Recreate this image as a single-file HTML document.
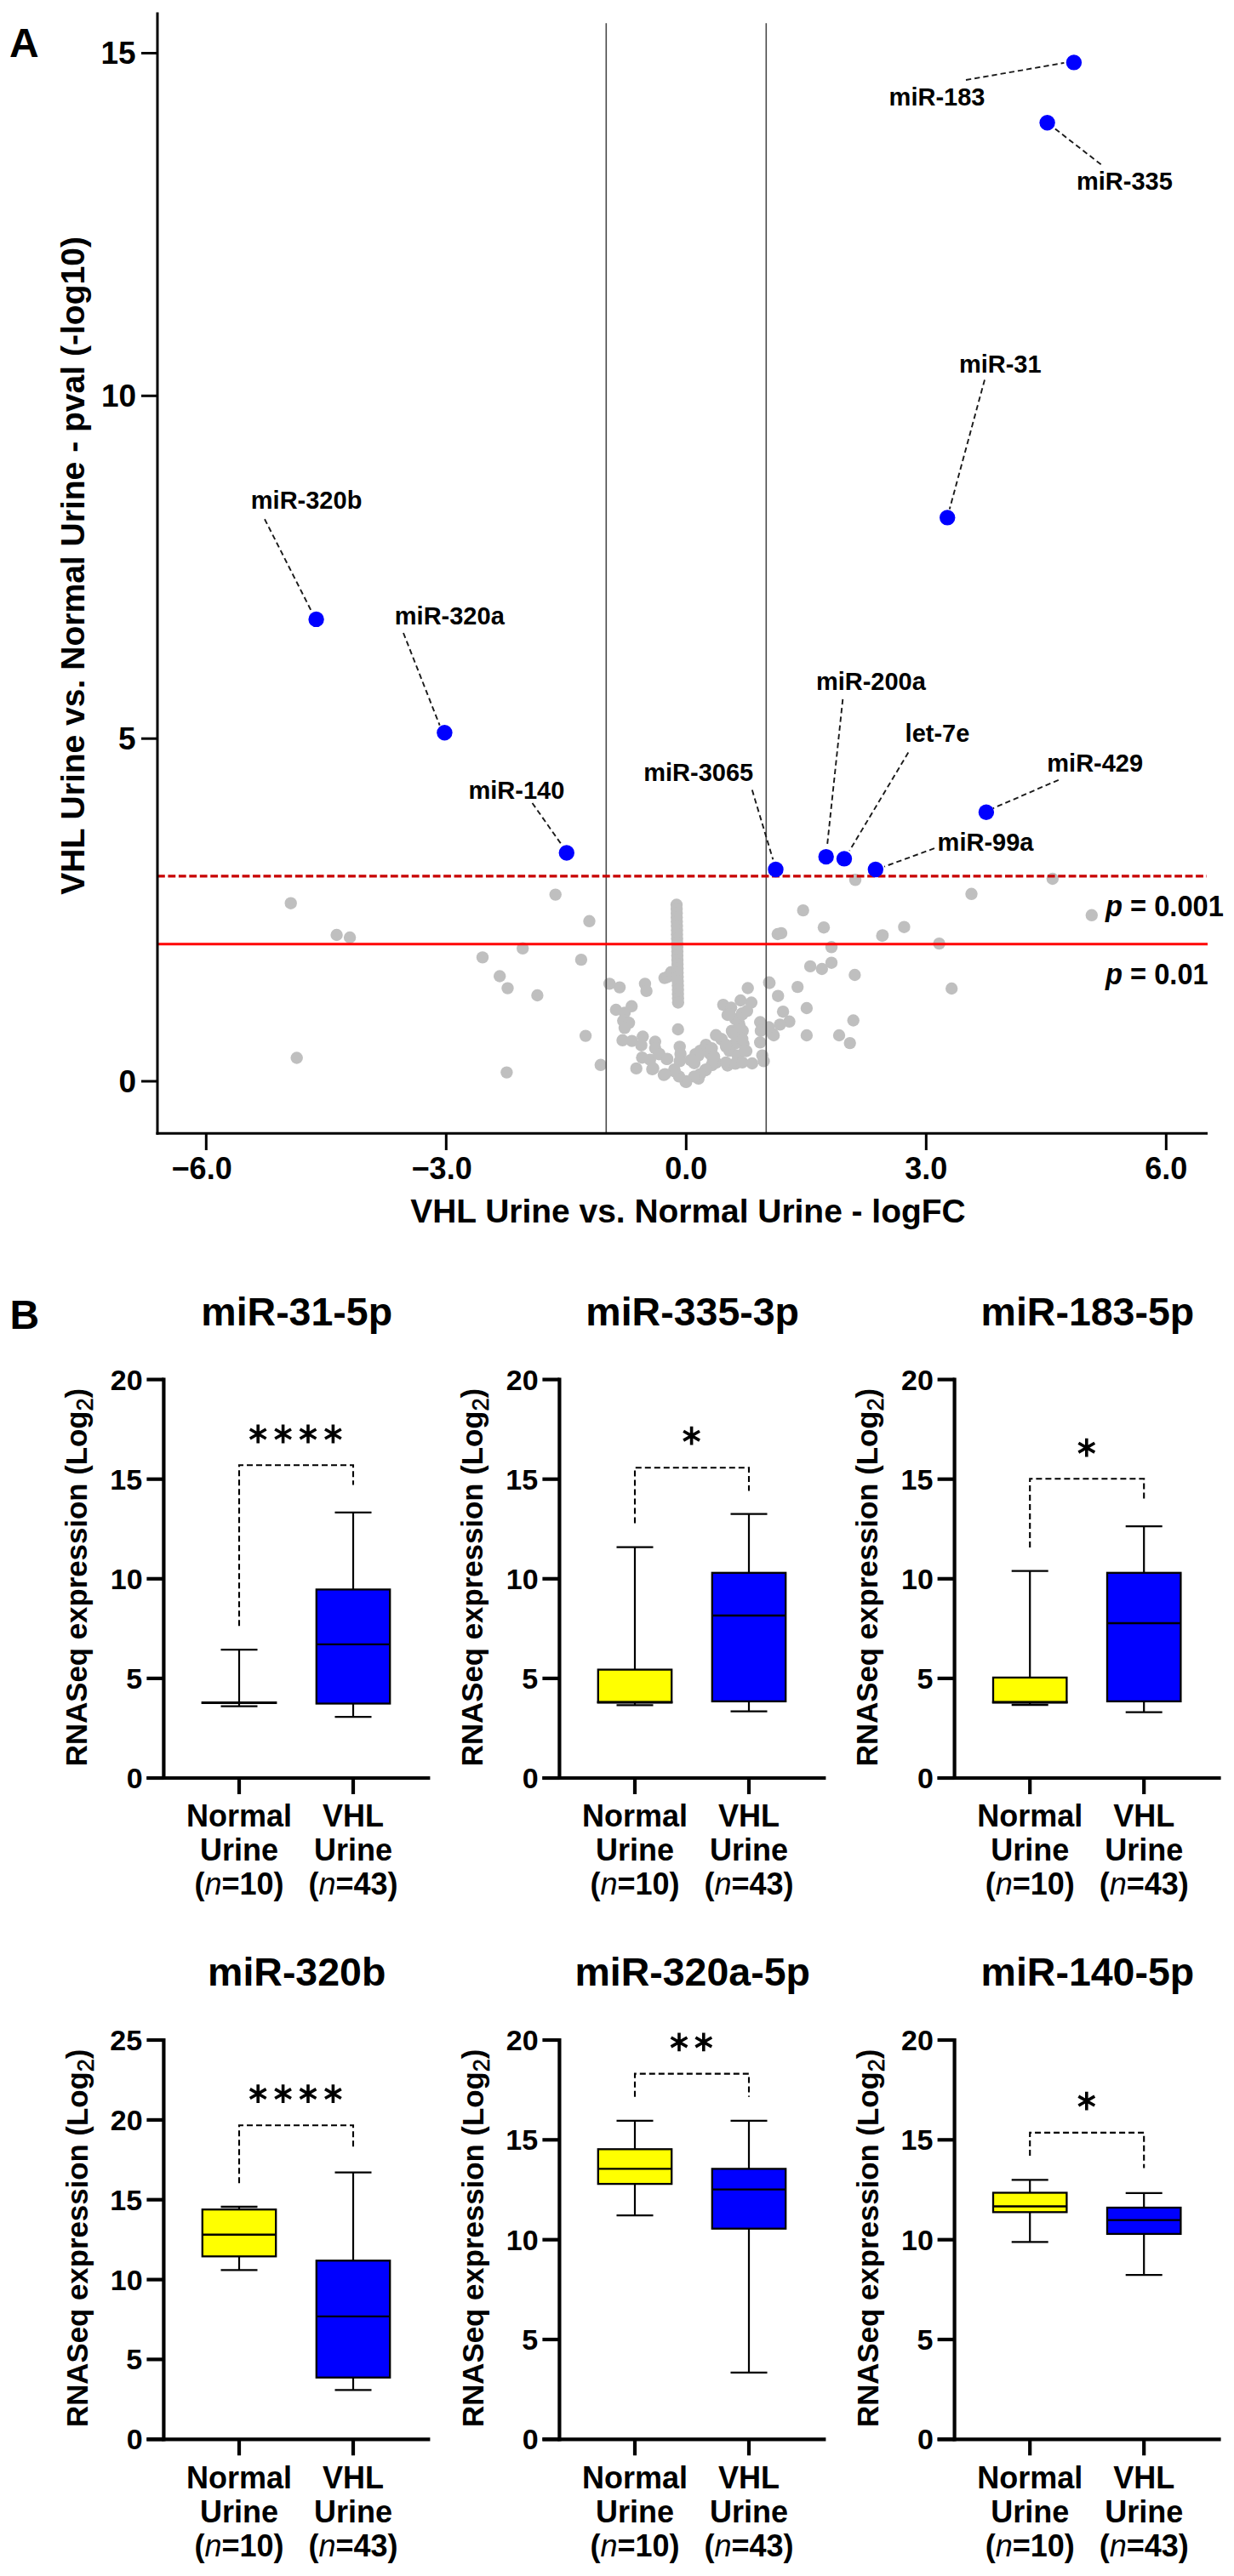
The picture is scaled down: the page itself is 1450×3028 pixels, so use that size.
<!DOCTYPE html>
<html><head><meta charset="utf-8"><style>
html,body{margin:0;padding:0;background:#fff;}
svg{display:block;}
text{font-family:"Liberation Sans", sans-serif;font-weight:bold;fill:#000;}
</style></head><body>
<svg width="1450" height="3028" viewBox="0 0 1450 3028">
<rect width="1450" height="3028" fill="#fff"/>
<text x="11.1" y="66.5" font-size="48" fill="#000" >A</text>
<g fill="#bfbfbf">
<circle cx="341.7" cy="1061.7" r="7.2"/>
<circle cx="395.6" cy="1099.0" r="7.2"/>
<circle cx="411.1" cy="1102.0" r="7.2"/>
<circle cx="348.7" cy="1243.5" r="7.2"/>
<circle cx="652.7" cy="1051.6" r="7.2"/>
<circle cx="692.5" cy="1082.8" r="7.2"/>
<circle cx="614.2" cy="1114.8" r="7.2"/>
<circle cx="567.0" cy="1125.4" r="7.2"/>
<circle cx="682.9" cy="1128.1" r="7.2"/>
<circle cx="587.2" cy="1147.5" r="7.2"/>
<circle cx="596.5" cy="1161.6" r="7.2"/>
<circle cx="631.4" cy="1170.0" r="7.2"/>
<circle cx="688.1" cy="1217.6" r="7.2"/>
<circle cx="595.4" cy="1260.6" r="7.2"/>
<circle cx="705.8" cy="1251.8" r="7.2"/>
<circle cx="716.2" cy="1156.4" r="7.2"/>
<circle cx="728.1" cy="1160.6" r="7.2"/>
<circle cx="757.9" cy="1156.4" r="7.2"/>
<circle cx="759.6" cy="1164.9" r="7.2"/>
<circle cx="780.8" cy="1149.6" r="7.2"/>
<circle cx="788.5" cy="1142.8" r="7.2"/>
<circle cx="723.8" cy="1187.0" r="7.2"/>
<circle cx="742.2" cy="1182.8" r="7.2"/>
<circle cx="734.0" cy="1190.4" r="7.2"/>
<circle cx="732.3" cy="1199.8" r="7.2"/>
<circle cx="739.1" cy="1202.3" r="7.2"/>
<circle cx="734.0" cy="1208.3" r="7.2"/>
<circle cx="731.5" cy="1222.8" r="7.2"/>
<circle cx="742.5" cy="1223.6" r="7.2"/>
<circle cx="755.3" cy="1218.5" r="7.2"/>
<circle cx="753.6" cy="1228.7" r="7.2"/>
<circle cx="769.8" cy="1224.5" r="7.2"/>
<circle cx="769.8" cy="1232.1" r="7.2"/>
<circle cx="754.5" cy="1243.2" r="7.2"/>
<circle cx="763.8" cy="1245.7" r="7.2"/>
<circle cx="774.9" cy="1238.9" r="7.2"/>
<circle cx="783.4" cy="1244.9" r="7.2"/>
<circle cx="747.7" cy="1255.9" r="7.2"/>
<circle cx="766.4" cy="1256.8" r="7.2"/>
<circle cx="780.0" cy="1263.6" r="7.2"/>
<circle cx="796.7" cy="1210.0" r="7.2"/>
<circle cx="798.7" cy="1230.4" r="7.2"/>
<circle cx="799.6" cy="1238.9" r="7.2"/>
<circle cx="798.7" cy="1247.4" r="7.2"/>
<circle cx="792.7" cy="1259.3" r="7.2"/>
<circle cx="805.5" cy="1271.3" r="7.2"/>
<circle cx="815.7" cy="1249.1" r="7.2"/>
<circle cx="820.8" cy="1240.6" r="7.2"/>
<circle cx="829.3" cy="1230.4" r="7.2"/>
<circle cx="834.4" cy="1238.9" r="7.2"/>
<circle cx="820.8" cy="1267.8" r="7.2"/>
<circle cx="829.3" cy="1257.6" r="7.2"/>
<circle cx="837.8" cy="1245.7" r="7.2"/>
<circle cx="841.3" cy="1249.1" r="7.2"/>
<circle cx="841.3" cy="1216.8" r="7.2"/>
<circle cx="848.1" cy="1221.9" r="7.2"/>
<circle cx="853.2" cy="1230.4" r="7.2"/>
<circle cx="854.9" cy="1252.5" r="7.2"/>
<circle cx="849.8" cy="1181.1" r="7.2"/>
<circle cx="859.1" cy="1184.5" r="7.2"/>
<circle cx="854.9" cy="1193.0" r="7.2"/>
<circle cx="870.2" cy="1176.0" r="7.2"/>
<circle cx="882.9" cy="1178.5" r="7.2"/>
<circle cx="878.7" cy="1161.5" r="7.2"/>
<circle cx="871.9" cy="1191.3" r="7.2"/>
<circle cx="868.5" cy="1203.2" r="7.2"/>
<circle cx="860.0" cy="1211.7" r="7.2"/>
<circle cx="872.7" cy="1211.7" r="7.2"/>
<circle cx="873.6" cy="1227.0" r="7.2"/>
<circle cx="877.0" cy="1235.5" r="7.2"/>
<circle cx="863.4" cy="1227.0" r="7.2"/>
<circle cx="865.1" cy="1249.1" r="7.2"/>
<circle cx="883.8" cy="1250.0" r="7.2"/>
<circle cx="893.2" cy="1201.5" r="7.2"/>
<circle cx="894.0" cy="1211.7" r="7.2"/>
<circle cx="893.2" cy="1225.3" r="7.2"/>
<circle cx="895.7" cy="1240.6" r="7.2"/>
<circle cx="897.4" cy="1247.4" r="7.2"/>
<circle cx="904.2" cy="1155.5" r="7.2"/>
<circle cx="907.6" cy="1215.1" r="7.2"/>
<circle cx="784.2" cy="1148.5" r="7.2"/>
<circle cx="790.5" cy="1144.3" r="7.2"/>
<circle cx="836.9" cy="1251.8" r="7.2"/>
<circle cx="815.8" cy="1249.7" r="7.2"/>
<circle cx="828.5" cy="1258.1" r="7.2"/>
<circle cx="806.3" cy="1271.8" r="7.2"/>
<circle cx="1005.0" cy="1034.3" r="7.2"/>
<circle cx="943.7" cy="1070.1" r="7.2"/>
<circle cx="968.0" cy="1090.2" r="7.2"/>
<circle cx="1036.6" cy="1100.0" r="7.2"/>
<circle cx="913.8" cy="1098.0" r="7.2"/>
<circle cx="918.0" cy="1096.9" r="7.2"/>
<circle cx="977.0" cy="1113.3" r="7.2"/>
<circle cx="952.1" cy="1135.9" r="7.2"/>
<circle cx="965.8" cy="1139.0" r="7.2"/>
<circle cx="977.0" cy="1131.7" r="7.2"/>
<circle cx="1004.4" cy="1146.0" r="7.2"/>
<circle cx="903.7" cy="1154.8" r="7.2"/>
<circle cx="937.2" cy="1160.1" r="7.2"/>
<circle cx="914.2" cy="1170.7" r="7.2"/>
<circle cx="947.9" cy="1185.0" r="7.2"/>
<circle cx="920.1" cy="1189.2" r="7.2"/>
<circle cx="927.5" cy="1200.8" r="7.2"/>
<circle cx="916.5" cy="1204.4" r="7.2"/>
<circle cx="1002.7" cy="1199.5" r="7.2"/>
<circle cx="909.2" cy="1217.0" r="7.2"/>
<circle cx="947.9" cy="1217.0" r="7.2"/>
<circle cx="986.0" cy="1217.0" r="7.2"/>
<circle cx="998.7" cy="1226.1" r="7.2"/>
<circle cx="903.3" cy="1207.5" r="7.2"/>
<circle cx="811.6" cy="1246.1" r="7.2"/>
<circle cx="817.1" cy="1239.2" r="7.2"/>
<circle cx="822.7" cy="1235.1" r="7.2"/>
<circle cx="829.5" cy="1228.2" r="7.2"/>
<circle cx="836.4" cy="1232.3" r="7.2"/>
<circle cx="839.2" cy="1242.0" r="7.2"/>
<circle cx="836.4" cy="1251.6" r="7.2"/>
<circle cx="829.5" cy="1257.1" r="7.2"/>
<circle cx="822.7" cy="1262.7" r="7.2"/>
<circle cx="815.8" cy="1265.4" r="7.2"/>
<circle cx="806.1" cy="1270.9" r="7.2"/>
<circle cx="797.9" cy="1265.4" r="7.2"/>
<circle cx="792.3" cy="1257.1" r="7.2"/>
<circle cx="781.3" cy="1262.7" r="7.2"/>
<circle cx="767.6" cy="1255.8" r="7.2"/>
<circle cx="774.4" cy="1239.2" r="7.2"/>
<circle cx="784.1" cy="1244.7" r="7.2"/>
<circle cx="853.0" cy="1248.9" r="7.2"/>
<circle cx="857.1" cy="1235.1" r="7.2"/>
<circle cx="866.7" cy="1240.6" r="7.2"/>
<circle cx="875.0" cy="1235.1" r="7.2"/>
<circle cx="872.2" cy="1221.3" r="7.2"/>
<circle cx="861.2" cy="1214.4" r="7.2"/>
<circle cx="869.5" cy="1207.6" r="7.2"/>
<circle cx="864.0" cy="1197.9" r="7.2"/>
<circle cx="857.1" cy="1192.4" r="7.2"/>
<circle cx="872.2" cy="1192.4" r="7.2"/>
<circle cx="877.8" cy="1188.3" r="7.2"/>
<circle cx="847.5" cy="1221.3" r="7.2"/>
<circle cx="853.0" cy="1228.2" r="7.2"/>
<circle cx="864.0" cy="1250.3" r="7.2"/>
<circle cx="872.2" cy="1248.9" r="7.2"/>
<circle cx="1236.8" cy="1033.0" r="7.2"/>
<circle cx="1141.5" cy="1050.8" r="7.2"/>
<circle cx="1282.8" cy="1075.8" r="7.2"/>
<circle cx="1062.4" cy="1089.7" r="7.2"/>
<circle cx="1037.1" cy="1099.4" r="7.2"/>
<circle cx="1103.6" cy="1109.1" r="7.2"/>
<circle cx="1118.2" cy="1162.0" r="7.2"/>
<circle cx="795.0" cy="1063.5" r="7.2"/>
<circle cx="795.1" cy="1068.5" r="7.2"/>
<circle cx="795.2" cy="1073.5" r="7.2"/>
<circle cx="795.2" cy="1078.5" r="7.2"/>
<circle cx="795.3" cy="1083.5" r="7.2"/>
<circle cx="795.4" cy="1088.5" r="7.2"/>
<circle cx="795.5" cy="1093.5" r="7.2"/>
<circle cx="795.5" cy="1098.5" r="7.2"/>
<circle cx="795.6" cy="1103.5" r="7.2"/>
<circle cx="795.7" cy="1108.5" r="7.2"/>
<circle cx="795.8" cy="1113.5" r="7.2"/>
<circle cx="795.9" cy="1118.5" r="7.2"/>
<circle cx="795.9" cy="1123.5" r="7.2"/>
<circle cx="796.0" cy="1128.5" r="7.2"/>
<circle cx="796.1" cy="1133.5" r="7.2"/>
<circle cx="796.2" cy="1138.5" r="7.2"/>
<circle cx="796.2" cy="1143.5" r="7.2"/>
<circle cx="796.3" cy="1148.5" r="7.2"/>
<circle cx="796.4" cy="1153.5" r="7.2"/>
<circle cx="796.5" cy="1158.5" r="7.2"/>
<circle cx="796.6" cy="1163.5" r="7.2"/>
<circle cx="796.6" cy="1168.5" r="7.2"/>
<circle cx="796.7" cy="1173.5" r="7.2"/>
<circle cx="796.8" cy="1178.5" r="7.2"/>
</g>
<line x1="712.3" y1="27.2" x2="712.3" y2="1332.3" stroke="#4a4a4a" stroke-width="1.6" />
<line x1="900.3" y1="27.2" x2="900.3" y2="1332.3" stroke="#4a4a4a" stroke-width="1.6" />
<line x1="185.0" y1="1029.8" x2="1418.0" y2="1029.8" stroke="#c80000" stroke-width="3.2" stroke-dasharray="8.8 3.65"/>
<line x1="185.0" y1="1109.8" x2="1419.0" y2="1109.8" stroke="#ff0000" stroke-width="3" />
<line x1="185.0" y1="14.6" x2="185.0" y2="1333.8" stroke="#000" stroke-width="3" />
<line x1="183.5" y1="1332.3" x2="1419.0" y2="1332.3" stroke="#000" stroke-width="3" />
<line x1="166.0" y1="62.5" x2="185.0" y2="62.5" stroke="#000" stroke-width="3" />
<text x="118.4" y="75.4" font-size="37" >15</text>
<line x1="166.0" y1="465.3" x2="185.0" y2="465.3" stroke="#000" stroke-width="3" />
<text x="118.9" y="478.2" font-size="37" >10</text>
<line x1="166.0" y1="868.2" x2="185.0" y2="868.2" stroke="#000" stroke-width="3" />
<text x="138.9" y="881.1" font-size="37" >5</text>
<line x1="166.0" y1="1271.0" x2="185.0" y2="1271.0" stroke="#000" stroke-width="3" />
<text x="139.4" y="1283.9" font-size="37" >0</text>
<line x1="242.3" y1="1332.3" x2="242.3" y2="1352.0" stroke="#000" stroke-width="3" />
<text x="201.6" y="1386.0" font-size="36" fill="#000" >−6.0</text>
<line x1="524.3" y1="1332.3" x2="524.3" y2="1352.0" stroke="#000" stroke-width="3" />
<text x="483.6" y="1386.0" font-size="36" fill="#000" >−3.0</text>
<line x1="806.3" y1="1332.3" x2="806.3" y2="1352.0" stroke="#000" stroke-width="3" />
<text x="806.3" y="1386" font-size="36" text-anchor="middle">0.0</text>
<line x1="1088.3" y1="1332.3" x2="1088.3" y2="1352.0" stroke="#000" stroke-width="3" />
<text x="1088.3" y="1386" font-size="36" text-anchor="middle">3.0</text>
<line x1="1370.3" y1="1332.3" x2="1370.3" y2="1352.0" stroke="#000" stroke-width="3" />
<text x="1370.3" y="1386" font-size="36" text-anchor="middle">6.0</text>
<text x="482.3" y="1437.4" font-size="39" textLength="652.3" lengthAdjust="spacingAndGlyphs" >VHL Urine vs. Normal Urine - logFC</text>
<text transform="translate(99.2,1051.7) rotate(-90)" font-size="39" textLength="773.6" lengthAdjust="spacingAndGlyphs">VHL Urine vs. Normal Urine - pval (-log10)</text>
<line x1="1135.0" y1="94.0" x2="1250.4" y2="73.9" stroke="#1a1a1a" stroke-width="1.9" stroke-dasharray="6.3 4"/>
<line x1="1239.9" y1="151.5" x2="1296.3" y2="195.3" stroke="#1a1a1a" stroke-width="1.9" stroke-dasharray="6.3 4"/>
<line x1="1157.0" y1="446.4" x2="1115.8" y2="598.4" stroke="#1a1a1a" stroke-width="1.9" stroke-dasharray="6.3 4"/>
<line x1="311.0" y1="610.2" x2="365.9" y2="718.3" stroke="#1a1a1a" stroke-width="1.9" stroke-dasharray="6.3 4"/>
<line x1="474.0" y1="744.0" x2="516.7" y2="852.7" stroke="#1a1a1a" stroke-width="1.9" stroke-dasharray="6.3 4"/>
<line x1="625.5" y1="944.0" x2="661.1" y2="994.6" stroke="#1a1a1a" stroke-width="1.9" stroke-dasharray="6.3 4"/>
<line x1="883.8" y1="928.6" x2="908.3" y2="1010.3" stroke="#1a1a1a" stroke-width="1.9" stroke-dasharray="6.3 4"/>
<line x1="990.3" y1="821.8" x2="971.9" y2="994.8" stroke="#1a1a1a" stroke-width="1.9" stroke-dasharray="6.3 4"/>
<line x1="1067.3" y1="884.6" x2="998.2" y2="1000.0" stroke="#1a1a1a" stroke-width="1.9" stroke-dasharray="6.3 4"/>
<line x1="1243.8" y1="916.8" x2="1166.7" y2="950.2" stroke="#1a1a1a" stroke-width="1.9" stroke-dasharray="6.3 4"/>
<line x1="1098.0" y1="997.2" x2="1039.0" y2="1018.7" stroke="#1a1a1a" stroke-width="1.9" stroke-dasharray="6.3 4"/>
<circle cx="1261.9" cy="73.4" r="9.2" fill="#0000ff"/>
<text x="1044.6" y="124.3" font-size="29" fill="#000" >miR-183</text>
<circle cx="1230.6" cy="144.2" r="9.2" fill="#0000ff"/>
<text x="1265.0" y="222.9" font-size="29" fill="#000" >miR-335</text>
<circle cx="1113.2" cy="608.4" r="9.2" fill="#0000ff"/>
<text x="1126.9" y="438.2" font-size="29" fill="#000" >miR-31</text>
<circle cx="371.6" cy="727.9" r="9.2" fill="#0000ff"/>
<text x="294.8" y="598.1" font-size="29" fill="#000" >miR-320b</text>
<circle cx="522.4" cy="861.3" r="9.2" fill="#0000ff"/>
<text x="463.8" y="733.6" font-size="29" fill="#000" >miR-320a</text>
<circle cx="665.8" cy="1002.5" r="9.2" fill="#0000ff"/>
<text x="550.5" y="938.6" font-size="29" fill="#000" >miR-140</text>
<circle cx="911.5" cy="1022" r="9.2" fill="#0000ff"/>
<text x="756.2" y="917.5" font-size="29" fill="#000" >miR-3065</text>
<circle cx="970.7" cy="1007.1" r="9.2" fill="#0000ff"/>
<text x="958.9" y="810.5" font-size="29" fill="#000" >miR-200a</text>
<circle cx="992" cy="1009.4" r="9.2" fill="#0000ff"/>
<text x="1063.6" y="872.4" font-size="29" fill="#000" >let-7e</text>
<circle cx="1158.9" cy="954.7" r="9.2" fill="#0000ff"/>
<text x="1230.3" y="907.1" font-size="29" fill="#000" >miR-429</text>
<circle cx="1028.8" cy="1022" r="9.2" fill="#0000ff"/>
<text x="1101.6" y="999.5" font-size="29" fill="#000" >miR-99a</text>
<g transform="translate(1297.9,0) scale(0.934,1) translate(-1297.9,0)"><text x="1299" y="1077.2" font-size="35"><tspan font-style="italic">p</tspan> = 0.001</text>
<text x="1299" y="1157.1" font-size="35"><tspan font-style="italic">p</tspan> = 0.01</text></g>
<text x="11.6" y="1562.2" font-size="48" fill="#000" >B</text>
<text x="348.7" y="1558.0" font-size="46.5" text-anchor="middle">miR-31-5p</text>
<line x1="281.0" y1="1939.2" x2="281.0" y2="2005.6" stroke="#000" stroke-width="2.2" />
<line x1="259.5" y1="1939.2" x2="302.5" y2="1939.2" stroke="#000" stroke-width="2.3" />
<line x1="259.5" y1="2005.6" x2="302.5" y2="2005.6" stroke="#000" stroke-width="2.3" />
<line x1="236.6" y1="2001.5" x2="325.4" y2="2001.5" stroke="#000" stroke-width="3.2" />
<line x1="415.0" y1="1777.8" x2="415.0" y2="2018.2" stroke="#000" stroke-width="2.2" />
<line x1="393.5" y1="1777.8" x2="436.5" y2="1777.8" stroke="#000" stroke-width="2.3" />
<line x1="393.5" y1="2018.2" x2="436.5" y2="2018.2" stroke="#000" stroke-width="2.3" />
<rect x="371.8" y="1868.4" width="86.4" height="134.1" fill="#0000ff" stroke="#000" stroke-width="2.3"/>
<line x1="371.8" y1="1932.9" x2="458.2" y2="1932.9" stroke="#000" stroke-width="2.4" />
<path d="M281.0,1911.3 V1722.3 H415.0 V1745.4" fill="none" stroke="#000" stroke-width="2.1" stroke-dasharray="7 4"/>
<path d="M303.20,1674.60L303.20,1696.40M293.76,1680.05L312.64,1690.95M293.76,1690.95L312.64,1680.05" stroke="#000" stroke-width="3.6" fill="none"/>
<path d="M332.60,1674.60L332.60,1696.40M323.16,1680.05L342.04,1690.95M323.16,1690.95L342.04,1680.05" stroke="#000" stroke-width="3.6" fill="none"/>
<path d="M362.00,1674.60L362.00,1696.40M352.56,1680.05L371.44,1690.95M352.56,1690.95L371.44,1680.05" stroke="#000" stroke-width="3.6" fill="none"/>
<path d="M391.40,1674.60L391.40,1696.40M381.96,1680.05L400.84,1690.95M381.96,1690.95L400.84,1680.05" stroke="#000" stroke-width="3.6" fill="none"/>
<line x1="192.4" y1="1619.5" x2="192.4" y2="2092.1" stroke="#000" stroke-width="4.2" />
<line x1="172.4" y1="2090.0" x2="505.4" y2="2090.0" stroke="#000" stroke-width="4.2" />
<line x1="172.4" y1="2090.0" x2="192.4" y2="2090.0" stroke="#000" stroke-width="4.2" />
<text x="148.7" y="2101.9" font-size="34" >0</text>
<line x1="172.4" y1="1972.9" x2="192.4" y2="1972.9" stroke="#000" stroke-width="4.2" />
<text x="148.2" y="1984.8" font-size="34" >5</text>
<line x1="172.4" y1="1855.8" x2="192.4" y2="1855.8" stroke="#000" stroke-width="4.2" />
<text x="129.8" y="1867.7" font-size="34" >10</text>
<line x1="172.4" y1="1738.7" x2="192.4" y2="1738.7" stroke="#000" stroke-width="4.2" />
<text x="129.3" y="1750.6" font-size="34" >15</text>
<line x1="172.4" y1="1621.6" x2="192.4" y2="1621.6" stroke="#000" stroke-width="4.2" />
<text x="129.8" y="1633.5" font-size="34" >20</text>
<line x1="281.0" y1="2090.0" x2="281.0" y2="2109.0" stroke="#000" stroke-width="4.2" />
<line x1="415.0" y1="2090.0" x2="415.0" y2="2109.0" stroke="#000" stroke-width="4.2" />
<text x="281.0" y="2146.6" font-size="36" text-anchor="middle">Normal</text>
<text x="281.0" y="2186.6" font-size="36" text-anchor="middle">Urine</text>
<text x="281.0" y="2226.6" font-size="36" text-anchor="middle">(<tspan font-style="italic" font-weight="normal">n</tspan>=10)</text>
<text x="415.0" y="2146.6" font-size="36" text-anchor="middle">VHL</text>
<text x="415.0" y="2186.6" font-size="36" text-anchor="middle">Urine</text>
<text x="415.0" y="2226.6" font-size="36" text-anchor="middle">(<tspan font-style="italic" font-weight="normal">n</tspan>=43)</text>
<text transform="translate(101.8,1854.0) rotate(-90)" font-size="34.8" text-anchor="middle">RNASeq expression (Log<tspan font-size="27" font-weight="normal" stroke="#000" stroke-width="0.6" dy="7.3">2</tspan><tspan dy="-7.3">)</tspan></text>
<text x="813.7" y="1558.0" font-size="46.5" text-anchor="middle">miR-335-3p</text>
<line x1="746.0" y1="1818.7" x2="746.0" y2="2004.3" stroke="#000" stroke-width="2.2" />
<line x1="724.5" y1="1818.7" x2="767.5" y2="1818.7" stroke="#000" stroke-width="2.3" />
<line x1="724.5" y1="2004.3" x2="767.5" y2="2004.3" stroke="#000" stroke-width="2.3" />
<rect x="702.8" y="1962.6" width="86.4" height="38.4" fill="#ffff00" stroke="#000" stroke-width="2.3"/>
<line x1="701.6" y1="2001.0" x2="790.4" y2="2001.0" stroke="#000" stroke-width="3.2" />
<line x1="880.0" y1="1779.6" x2="880.0" y2="2011.6" stroke="#000" stroke-width="2.2" />
<line x1="858.5" y1="1779.6" x2="901.5" y2="1779.6" stroke="#000" stroke-width="2.3" />
<line x1="858.5" y1="2011.6" x2="901.5" y2="2011.6" stroke="#000" stroke-width="2.3" />
<rect x="836.8" y="1848.8" width="86.4" height="151.1" fill="#0000ff" stroke="#000" stroke-width="2.3"/>
<line x1="836.8" y1="1899.0" x2="923.2" y2="1899.0" stroke="#000" stroke-width="2.4" />
<path d="M746.0,1790.4 V1725.2 H880.0 V1752.4" fill="none" stroke="#000" stroke-width="2.1" stroke-dasharray="7 4"/>
<path d="M812.60,1676.80L812.60,1698.60M803.16,1682.25L822.04,1693.15M803.16,1693.15L822.04,1682.25" stroke="#000" stroke-width="3.6" fill="none"/>
<line x1="657.4" y1="1619.5" x2="657.4" y2="2092.1" stroke="#000" stroke-width="4.2" />
<line x1="637.4" y1="2090.0" x2="970.4" y2="2090.0" stroke="#000" stroke-width="4.2" />
<line x1="637.4" y1="2090.0" x2="657.4" y2="2090.0" stroke="#000" stroke-width="4.2" />
<text x="613.7" y="2101.9" font-size="34" >0</text>
<line x1="637.4" y1="1972.9" x2="657.4" y2="1972.9" stroke="#000" stroke-width="4.2" />
<text x="613.2" y="1984.8" font-size="34" >5</text>
<line x1="637.4" y1="1855.8" x2="657.4" y2="1855.8" stroke="#000" stroke-width="4.2" />
<text x="594.8" y="1867.7" font-size="34" >10</text>
<line x1="637.4" y1="1738.7" x2="657.4" y2="1738.7" stroke="#000" stroke-width="4.2" />
<text x="594.3" y="1750.6" font-size="34" >15</text>
<line x1="637.4" y1="1621.6" x2="657.4" y2="1621.6" stroke="#000" stroke-width="4.2" />
<text x="594.8" y="1633.5" font-size="34" >20</text>
<line x1="746.0" y1="2090.0" x2="746.0" y2="2109.0" stroke="#000" stroke-width="4.2" />
<line x1="880.0" y1="2090.0" x2="880.0" y2="2109.0" stroke="#000" stroke-width="4.2" />
<text x="746.0" y="2146.6" font-size="36" text-anchor="middle">Normal</text>
<text x="746.0" y="2186.6" font-size="36" text-anchor="middle">Urine</text>
<text x="746.0" y="2226.6" font-size="36" text-anchor="middle">(<tspan font-style="italic" font-weight="normal">n</tspan>=10)</text>
<text x="880.0" y="2146.6" font-size="36" text-anchor="middle">VHL</text>
<text x="880.0" y="2186.6" font-size="36" text-anchor="middle">Urine</text>
<text x="880.0" y="2226.6" font-size="36" text-anchor="middle">(<tspan font-style="italic" font-weight="normal">n</tspan>=43)</text>
<text transform="translate(566.8,1854.0) rotate(-90)" font-size="34.8" text-anchor="middle">RNASeq expression (Log<tspan font-size="27" font-weight="normal" stroke="#000" stroke-width="0.6" dy="7.3">2</tspan><tspan dy="-7.3">)</tspan></text>
<text x="1277.9" y="1558.0" font-size="46.5" text-anchor="middle">miR-183-5p</text>
<line x1="1210.2" y1="1846.7" x2="1210.2" y2="2004.0" stroke="#000" stroke-width="2.2" />
<line x1="1188.7" y1="1846.7" x2="1231.7" y2="1846.7" stroke="#000" stroke-width="2.3" />
<line x1="1188.7" y1="2004.0" x2="1231.7" y2="2004.0" stroke="#000" stroke-width="2.3" />
<rect x="1167.0" y="1971.9" width="86.4" height="29.1" fill="#ffff00" stroke="#000" stroke-width="2.3"/>
<line x1="1165.8" y1="2001.0" x2="1254.6" y2="2001.0" stroke="#000" stroke-width="3.2" />
<line x1="1344.2" y1="1794.2" x2="1344.2" y2="2012.7" stroke="#000" stroke-width="2.2" />
<line x1="1322.7" y1="1794.2" x2="1365.7" y2="1794.2" stroke="#000" stroke-width="2.3" />
<line x1="1322.7" y1="2012.7" x2="1365.7" y2="2012.7" stroke="#000" stroke-width="2.3" />
<rect x="1301.0" y="1848.8" width="86.4" height="151.1" fill="#0000ff" stroke="#000" stroke-width="2.3"/>
<line x1="1301.0" y1="1908.0" x2="1387.4" y2="1908.0" stroke="#000" stroke-width="2.4" />
<path d="M1210.2,1819.0 V1738.2 H1344.2 V1763.6" fill="none" stroke="#000" stroke-width="2.1" stroke-dasharray="7 4"/>
<path d="M1276.80,1690.80L1276.80,1712.60M1267.36,1696.25L1286.24,1707.15M1267.36,1707.15L1286.24,1696.25" stroke="#000" stroke-width="3.6" fill="none"/>
<line x1="1121.6" y1="1619.5" x2="1121.6" y2="2092.1" stroke="#000" stroke-width="4.2" />
<line x1="1101.6" y1="2090.0" x2="1434.6" y2="2090.0" stroke="#000" stroke-width="4.2" />
<line x1="1101.6" y1="2090.0" x2="1121.6" y2="2090.0" stroke="#000" stroke-width="4.2" />
<text x="1077.9" y="2101.9" font-size="34" >0</text>
<line x1="1101.6" y1="1972.9" x2="1121.6" y2="1972.9" stroke="#000" stroke-width="4.2" />
<text x="1077.4" y="1984.8" font-size="34" >5</text>
<line x1="1101.6" y1="1855.8" x2="1121.6" y2="1855.8" stroke="#000" stroke-width="4.2" />
<text x="1059.0" y="1867.7" font-size="34" >10</text>
<line x1="1101.6" y1="1738.7" x2="1121.6" y2="1738.7" stroke="#000" stroke-width="4.2" />
<text x="1058.5" y="1750.6" font-size="34" >15</text>
<line x1="1101.6" y1="1621.6" x2="1121.6" y2="1621.6" stroke="#000" stroke-width="4.2" />
<text x="1059.0" y="1633.5" font-size="34" >20</text>
<line x1="1210.2" y1="2090.0" x2="1210.2" y2="2109.0" stroke="#000" stroke-width="4.2" />
<line x1="1344.2" y1="2090.0" x2="1344.2" y2="2109.0" stroke="#000" stroke-width="4.2" />
<text x="1210.2" y="2146.6" font-size="36" text-anchor="middle">Normal</text>
<text x="1210.2" y="2186.6" font-size="36" text-anchor="middle">Urine</text>
<text x="1210.2" y="2226.6" font-size="36" text-anchor="middle">(<tspan font-style="italic" font-weight="normal">n</tspan>=10)</text>
<text x="1344.2" y="2146.6" font-size="36" text-anchor="middle">VHL</text>
<text x="1344.2" y="2186.6" font-size="36" text-anchor="middle">Urine</text>
<text x="1344.2" y="2226.6" font-size="36" text-anchor="middle">(<tspan font-style="italic" font-weight="normal">n</tspan>=43)</text>
<text transform="translate(1031.0,1854.0) rotate(-90)" font-size="34.8" text-anchor="middle">RNASeq expression (Log<tspan font-size="27" font-weight="normal" stroke="#000" stroke-width="0.6" dy="7.3">2</tspan><tspan dy="-7.3">)</tspan></text>
<text x="348.7" y="2334.0" font-size="46.5" text-anchor="middle">miR-320b</text>
<line x1="281.0" y1="2594.0" x2="281.0" y2="2668.4" stroke="#000" stroke-width="2.2" />
<line x1="259.5" y1="2594.0" x2="302.5" y2="2594.0" stroke="#000" stroke-width="2.3" />
<line x1="259.5" y1="2668.4" x2="302.5" y2="2668.4" stroke="#000" stroke-width="2.3" />
<rect x="237.8" y="2597.2" width="86.4" height="55.1" fill="#ffff00" stroke="#000" stroke-width="2.3"/>
<line x1="237.8" y1="2626.7" x2="324.2" y2="2626.7" stroke="#000" stroke-width="2.4" />
<line x1="415.0" y1="2553.7" x2="415.0" y2="2809.3" stroke="#000" stroke-width="2.2" />
<line x1="393.5" y1="2553.7" x2="436.5" y2="2553.7" stroke="#000" stroke-width="2.3" />
<line x1="393.5" y1="2809.3" x2="436.5" y2="2809.3" stroke="#000" stroke-width="2.3" />
<rect x="371.8" y="2657.3" width="86.4" height="137.4" fill="#0000ff" stroke="#000" stroke-width="2.3"/>
<line x1="371.8" y1="2722.9" x2="458.2" y2="2722.9" stroke="#000" stroke-width="2.4" />
<path d="M281.0,2566.3 V2498.3 H415.0 V2524.0" fill="none" stroke="#000" stroke-width="2.1" stroke-dasharray="7 4"/>
<path d="M303.20,2450.20L303.20,2472.00M293.76,2455.65L312.64,2466.55M293.76,2466.55L312.64,2455.65" stroke="#000" stroke-width="3.6" fill="none"/>
<path d="M332.60,2450.20L332.60,2472.00M323.16,2455.65L342.04,2466.55M323.16,2466.55L342.04,2455.65" stroke="#000" stroke-width="3.6" fill="none"/>
<path d="M362.00,2450.20L362.00,2472.00M352.56,2455.65L371.44,2466.55M352.56,2466.55L371.44,2455.65" stroke="#000" stroke-width="3.6" fill="none"/>
<path d="M391.40,2450.20L391.40,2472.00M381.96,2455.65L400.84,2466.55M381.96,2466.55L400.84,2455.65" stroke="#000" stroke-width="3.6" fill="none"/>
<line x1="192.4" y1="2395.9" x2="192.4" y2="2869.4" stroke="#000" stroke-width="4.2" />
<line x1="172.4" y1="2867.3" x2="505.4" y2="2867.3" stroke="#000" stroke-width="4.2" />
<line x1="172.4" y1="2867.3" x2="192.4" y2="2867.3" stroke="#000" stroke-width="4.2" />
<text x="148.7" y="2879.2" font-size="34" >0</text>
<line x1="172.4" y1="2773.4" x2="192.4" y2="2773.4" stroke="#000" stroke-width="4.2" />
<text x="148.2" y="2785.3" font-size="34" >5</text>
<line x1="172.4" y1="2679.6" x2="192.4" y2="2679.6" stroke="#000" stroke-width="4.2" />
<text x="129.8" y="2691.5" font-size="34" >10</text>
<line x1="172.4" y1="2585.7" x2="192.4" y2="2585.7" stroke="#000" stroke-width="4.2" />
<text x="129.3" y="2597.6" font-size="34" >15</text>
<line x1="172.4" y1="2491.9" x2="192.4" y2="2491.9" stroke="#000" stroke-width="4.2" />
<text x="129.8" y="2503.8" font-size="34" >20</text>
<line x1="172.4" y1="2398.0" x2="192.4" y2="2398.0" stroke="#000" stroke-width="4.2" />
<text x="129.3" y="2409.9" font-size="34" >25</text>
<line x1="281.0" y1="2867.3" x2="281.0" y2="2886.3" stroke="#000" stroke-width="4.2" />
<line x1="415.0" y1="2867.3" x2="415.0" y2="2886.3" stroke="#000" stroke-width="4.2" />
<text x="281.0" y="2924.7" font-size="36" text-anchor="middle">Normal</text>
<text x="281.0" y="2964.7" font-size="36" text-anchor="middle">Urine</text>
<text x="281.0" y="3004.7" font-size="36" text-anchor="middle">(<tspan font-style="italic" font-weight="normal">n</tspan>=10)</text>
<text x="415.0" y="2924.7" font-size="36" text-anchor="middle">VHL</text>
<text x="415.0" y="2964.7" font-size="36" text-anchor="middle">Urine</text>
<text x="415.0" y="3004.7" font-size="36" text-anchor="middle">(<tspan font-style="italic" font-weight="normal">n</tspan>=43)</text>
<text transform="translate(102.6,2630.8) rotate(-90)" font-size="34.8" text-anchor="middle">RNASeq expression (Log<tspan font-size="27" font-weight="normal" stroke="#000" stroke-width="0.6" dy="7.3">2</tspan><tspan dy="-7.3">)</tspan></text>
<text x="813.7" y="2334.0" font-size="46.5" text-anchor="middle">miR-320a-5p</text>
<line x1="746.0" y1="2492.8" x2="746.0" y2="2604.2" stroke="#000" stroke-width="2.2" />
<line x1="724.5" y1="2492.8" x2="767.5" y2="2492.8" stroke="#000" stroke-width="2.3" />
<line x1="724.5" y1="2604.2" x2="767.5" y2="2604.2" stroke="#000" stroke-width="2.3" />
<rect x="702.8" y="2526.3" width="86.4" height="40.8" fill="#ffff00" stroke="#000" stroke-width="2.3"/>
<line x1="702.8" y1="2549.4" x2="789.2" y2="2549.4" stroke="#000" stroke-width="2.4" />
<line x1="880.0" y1="2492.8" x2="880.0" y2="2788.9" stroke="#000" stroke-width="2.2" />
<line x1="858.5" y1="2492.8" x2="901.5" y2="2492.8" stroke="#000" stroke-width="2.3" />
<line x1="858.5" y1="2788.9" x2="901.5" y2="2788.9" stroke="#000" stroke-width="2.3" />
<rect x="836.8" y="2549.4" width="86.4" height="70.3" fill="#0000ff" stroke="#000" stroke-width="2.3"/>
<line x1="836.8" y1="2573.6" x2="923.2" y2="2573.6" stroke="#000" stroke-width="2.4" />
<path d="M746.0,2464.8 V2437.6 H880.0 V2464.8" fill="none" stroke="#000" stroke-width="2.1" stroke-dasharray="7 4"/>
<path d="M798.00,2389.50L798.00,2411.30M788.56,2394.95L807.44,2405.85M788.56,2405.85L807.44,2394.95" stroke="#000" stroke-width="3.6" fill="none"/>
<path d="M826.80,2389.50L826.80,2411.30M817.36,2394.95L836.24,2405.85M817.36,2405.85L836.24,2394.95" stroke="#000" stroke-width="3.6" fill="none"/>
<line x1="657.4" y1="2395.9" x2="657.4" y2="2869.4" stroke="#000" stroke-width="4.2" />
<line x1="637.4" y1="2867.3" x2="970.4" y2="2867.3" stroke="#000" stroke-width="4.2" />
<line x1="637.4" y1="2867.3" x2="657.4" y2="2867.3" stroke="#000" stroke-width="4.2" />
<text x="613.7" y="2879.2" font-size="34" >0</text>
<line x1="637.4" y1="2750.0" x2="657.4" y2="2750.0" stroke="#000" stroke-width="4.2" />
<text x="613.2" y="2761.9" font-size="34" >5</text>
<line x1="637.4" y1="2632.7" x2="657.4" y2="2632.7" stroke="#000" stroke-width="4.2" />
<text x="594.8" y="2644.6" font-size="34" >10</text>
<line x1="637.4" y1="2515.3" x2="657.4" y2="2515.3" stroke="#000" stroke-width="4.2" />
<text x="594.3" y="2527.2" font-size="34" >15</text>
<line x1="637.4" y1="2398.0" x2="657.4" y2="2398.0" stroke="#000" stroke-width="4.2" />
<text x="594.8" y="2409.9" font-size="34" >20</text>
<line x1="746.0" y1="2867.3" x2="746.0" y2="2886.3" stroke="#000" stroke-width="4.2" />
<line x1="880.0" y1="2867.3" x2="880.0" y2="2886.3" stroke="#000" stroke-width="4.2" />
<text x="746.0" y="2924.7" font-size="36" text-anchor="middle">Normal</text>
<text x="746.0" y="2964.7" font-size="36" text-anchor="middle">Urine</text>
<text x="746.0" y="3004.7" font-size="36" text-anchor="middle">(<tspan font-style="italic" font-weight="normal">n</tspan>=10)</text>
<text x="880.0" y="2924.7" font-size="36" text-anchor="middle">VHL</text>
<text x="880.0" y="2964.7" font-size="36" text-anchor="middle">Urine</text>
<text x="880.0" y="3004.7" font-size="36" text-anchor="middle">(<tspan font-style="italic" font-weight="normal">n</tspan>=43)</text>
<text transform="translate(567.6,2630.8) rotate(-90)" font-size="34.8" text-anchor="middle">RNASeq expression (Log<tspan font-size="27" font-weight="normal" stroke="#000" stroke-width="0.6" dy="7.3">2</tspan><tspan dy="-7.3">)</tspan></text>
<text x="1277.9" y="2334.0" font-size="46.5" text-anchor="middle">miR-140-5p</text>
<line x1="1210.2" y1="2562.3" x2="1210.2" y2="2635.3" stroke="#000" stroke-width="2.2" />
<line x1="1188.7" y1="2562.3" x2="1231.7" y2="2562.3" stroke="#000" stroke-width="2.3" />
<line x1="1188.7" y1="2635.3" x2="1231.7" y2="2635.3" stroke="#000" stroke-width="2.3" />
<rect x="1167.0" y="2577.5" width="86.4" height="22.8" fill="#ffff00" stroke="#000" stroke-width="2.3"/>
<line x1="1167.0" y1="2593.5" x2="1253.4" y2="2593.5" stroke="#000" stroke-width="2.4" />
<line x1="1344.2" y1="2577.8" x2="1344.2" y2="2674.1" stroke="#000" stroke-width="2.2" />
<line x1="1322.7" y1="2577.8" x2="1365.7" y2="2577.8" stroke="#000" stroke-width="2.3" />
<line x1="1322.7" y1="2674.1" x2="1365.7" y2="2674.1" stroke="#000" stroke-width="2.3" />
<rect x="1301.0" y="2595.0" width="86.4" height="30.9" fill="#0000ff" stroke="#000" stroke-width="2.3"/>
<line x1="1301.0" y1="2609.6" x2="1387.4" y2="2609.6" stroke="#000" stroke-width="2.4" />
<path d="M1210.2,2534.0 V2506.9 H1344.2 V2548.6" fill="none" stroke="#000" stroke-width="2.1" stroke-dasharray="7 4"/>
<path d="M1276.80,2458.70L1276.80,2480.50M1267.36,2464.15L1286.24,2475.05M1267.36,2475.05L1286.24,2464.15" stroke="#000" stroke-width="3.6" fill="none"/>
<line x1="1121.6" y1="2395.9" x2="1121.6" y2="2869.4" stroke="#000" stroke-width="4.2" />
<line x1="1101.6" y1="2867.3" x2="1434.6" y2="2867.3" stroke="#000" stroke-width="4.2" />
<line x1="1101.6" y1="2867.3" x2="1121.6" y2="2867.3" stroke="#000" stroke-width="4.2" />
<text x="1077.9" y="2879.2" font-size="34" >0</text>
<line x1="1101.6" y1="2750.0" x2="1121.6" y2="2750.0" stroke="#000" stroke-width="4.2" />
<text x="1077.4" y="2761.9" font-size="34" >5</text>
<line x1="1101.6" y1="2632.7" x2="1121.6" y2="2632.7" stroke="#000" stroke-width="4.2" />
<text x="1059.0" y="2644.6" font-size="34" >10</text>
<line x1="1101.6" y1="2515.3" x2="1121.6" y2="2515.3" stroke="#000" stroke-width="4.2" />
<text x="1058.5" y="2527.2" font-size="34" >15</text>
<line x1="1101.6" y1="2398.0" x2="1121.6" y2="2398.0" stroke="#000" stroke-width="4.2" />
<text x="1059.0" y="2409.9" font-size="34" >20</text>
<line x1="1210.2" y1="2867.3" x2="1210.2" y2="2886.3" stroke="#000" stroke-width="4.2" />
<line x1="1344.2" y1="2867.3" x2="1344.2" y2="2886.3" stroke="#000" stroke-width="4.2" />
<text x="1210.2" y="2924.7" font-size="36" text-anchor="middle">Normal</text>
<text x="1210.2" y="2964.7" font-size="36" text-anchor="middle">Urine</text>
<text x="1210.2" y="3004.7" font-size="36" text-anchor="middle">(<tspan font-style="italic" font-weight="normal">n</tspan>=10)</text>
<text x="1344.2" y="2924.7" font-size="36" text-anchor="middle">VHL</text>
<text x="1344.2" y="2964.7" font-size="36" text-anchor="middle">Urine</text>
<text x="1344.2" y="3004.7" font-size="36" text-anchor="middle">(<tspan font-style="italic" font-weight="normal">n</tspan>=43)</text>
<text transform="translate(1031.8,2630.8) rotate(-90)" font-size="34.8" text-anchor="middle">RNASeq expression (Log<tspan font-size="27" font-weight="normal" stroke="#000" stroke-width="0.6" dy="7.3">2</tspan><tspan dy="-7.3">)</tspan></text>
</svg>
</body></html>
